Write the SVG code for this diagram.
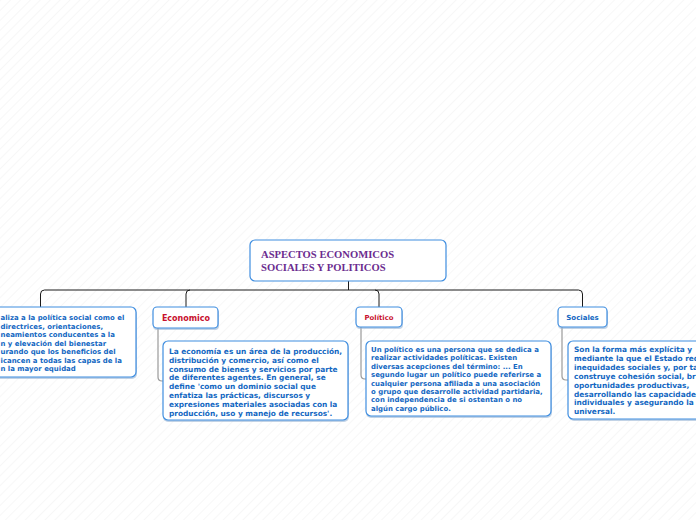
<svg xmlns="http://www.w3.org/2000/svg" width="696" height="520" viewBox="0 0 696 520">
<defs>
<pattern id="bg" patternUnits="userSpaceOnUse" width="7" height="7" patternTransform="rotate(45)">
<line x1="0" y1="0" x2="0" y2="7" stroke="#f1f1f1" stroke-width="1.2"/>
</pattern>
</defs>
<style>
.box{fill:#fff;stroke:#3f8ee0;stroke-width:1.2}
.sh{fill:#9ab6d6;opacity:0.6}
.t{font-family:"DejaVu Sans",Verdana,sans-serif;font-weight:bold;font-size:7.4px;fill:#1267c2}
.ts{font-size:6.95px}
.lbl{font-family:"DejaVu Sans",Verdana,sans-serif;font-weight:bold;text-anchor:middle}
.main{font-family:"Liberation Serif","Times New Roman",serif;font-weight:bold;font-size:10.6px;fill:#6b2c8f}
.con{fill:none;stroke:#1a1a1a;stroke-width:1}
.sub{fill:none;stroke:#9a9a9a;stroke-width:1.2}
</style>
<rect width="696" height="520" fill="#fff"/>
<rect width="696" height="520" fill="url(#bg)"/>

<g id="connectors">
<path class="con" d="M348.5,281 V290"/>
<path class="con" d="M40.5,307 V294 Q40.5,290 44.5,290 H578.5 Q582.5,290 582.5,294 V307"/>
<path class="con" d="M186,307 V294 Q186,290 190,290"/>
<path class="con" d="M375,290 Q379,290 379,294 V307"/>
<path class="sub" d="M158,328 V377 Q158,381 162,381 H164"/>
<path class="sub" d="M361,327 V375 Q361,379 365,379 H367"/>
<path class="sub" d="M562,327 V376 Q562,380 566,380 H569"/>
</g>

<g id="central">
<rect class="box" x="250" y="240" width="196" height="41" rx="5"/>
<text class="main" x="261" y="258">ASPECTOS ECONOMICOS</text>
<text class="main" x="261" y="270.5">SOCIALES Y POLITICOS</text>
</g>

<g id="left-text">
<rect class="sh" x="-10" y="309" width="147" height="70" rx="5"/>
<rect class="box" x="-10" y="307" width="146" height="70" rx="5"/>
<text class="t ts" x="0.5" y="320">aliza a la política social como el</text>
<text class="t ts" x="0.5" y="328.5"> directrices, orientaciones,</text>
<text class="t ts" x="0.5" y="337">neamientos conducentes a la</text>
<text class="t ts" x="0.5" y="345.5">n y elevación del bienestar</text>
<text class="t ts" x="0.5" y="354">urando que los beneficios del</text>
<text class="t ts" x="0.5" y="362.5">icancen a todas las capas de la</text>
<text class="t ts" x="0.5" y="371">n la mayor equidad</text>
</g>

<g id="economico">
<rect class="sh" x="153" y="309" width="66" height="21" rx="4"/>
<rect class="box" x="153" y="307" width="65" height="21" rx="4"/>
<text class="lbl" x="186" y="320.5" font-size="8px" fill="#c8102e">Economico</text>
</g>

<g id="economico-text">
<rect class="sh" x="163" y="343" width="186" height="79" rx="5"/>
<rect class="box" x="163" y="341" width="185" height="79" rx="5"/>
<text class="t" x="169" y="354">La economía es un área de la producción,</text>
<text class="t" x="169" y="362.8">distribución y comercio, así como el</text>
<text class="t" x="169" y="371.6">consumo de bienes y servicios por parte</text>
<text class="t" x="169" y="380.4">de diferentes agentes. En general, se</text>
<text class="t" x="169" y="389.2">define 'como un dominio social que</text>
<text class="t" x="169" y="398">enfatiza las prácticas, discursos y</text>
<text class="t" x="169" y="406.8">expresiones materiales asociadas con la</text>
<text class="t" x="169" y="415.6">producción, uso y manejo de recursos'.</text>
</g>

<g id="politico">
<rect class="sh" x="356" y="309" width="47" height="20" rx="4"/>
<rect class="box" x="356" y="307" width="46" height="20" rx="4"/>
<text class="lbl" x="379" y="319.8" font-size="6.9px" fill="#c8102e">Político</text>
</g>

<g id="politico-text">
<rect class="sh" x="366" y="343" width="186" height="75" rx="5"/>
<rect class="box" x="366" y="341" width="185" height="75" rx="5"/>
<text class="t ts" x="371" y="352">Un político es una persona que se dedica a</text>
<text class="t ts" x="371" y="360.4">realizar actividades políticas. Existen</text>
<text class="t ts" x="371" y="368.8">diversas acepciones del término: ... En</text>
<text class="t ts" x="371" y="377.2">segundo lugar un político puede referirse a</text>
<text class="t ts" x="371" y="385.6">cualquier persona afiliada a una asociación</text>
<text class="t ts" x="371" y="394">o grupo que desarrolle actividad partidaria,</text>
<text class="t ts" x="371" y="402.4">con independencia de si ostentan o no</text>
<text class="t ts" x="371" y="410.8">algún cargo público.</text>
</g>

<g id="sociales">
<rect class="sh" x="558" y="309" width="50" height="20" rx="4"/>
<rect class="box" x="558" y="307" width="49" height="20" rx="4"/>
<text class="lbl" x="582.5" y="319.8" font-size="7px" fill="#1267c2">Sociales</text>
</g>

<g id="sociales-text">
<rect class="sh" x="569" y="343" width="140" height="78" rx="5"/>
<rect class="box" x="568" y="341" width="140" height="78" rx="5"/>
<text class="t" x="574" y="352">Son la forma más explícita y</text>
<text class="t" x="574" y="360.9">mediante la que el Estado red</text>
<text class="t" x="574" y="369.8">inequidades sociales y, por ta</text>
<text class="t" x="574" y="378.7">construye cohesión social, br</text>
<text class="t" x="574" y="387.6">oportunidades productivas,</text>
<text class="t" x="574" y="396.5">desarrollando las capacidades</text>
<text class="t" x="574" y="405.4">individuales y asegurando la</text>
<text class="t" x="574" y="414.3">universal.</text>
</g>
</svg>
